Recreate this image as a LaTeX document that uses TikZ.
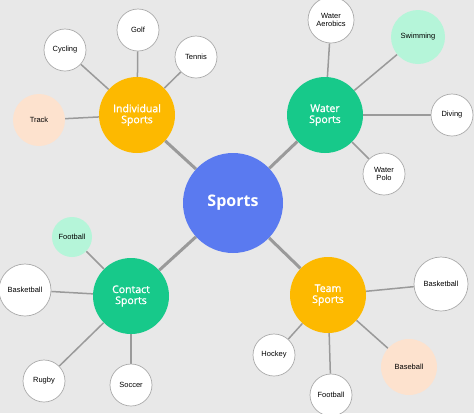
\documentclass[tikz,border=0pt]{standalone}
\usepackage{fontspec}
\setmainfont{Open Sans}
\newfontfamily\leaffont{Liberation Sans}
\newfontfamily\subfont[FakeBold=1.2]{Open Sans}
\usetikzlibrary{backgrounds}
\definecolor{bgc}{HTML}{E8E8E8}
\definecolor{blu}{HTML}{5A7AF0}
\definecolor{yel}{HTML}{FDB900}
\definecolor{grn}{HTML}{17C98A}
\definecolor{peach}{HTML}{FDE2CE}
\definecolor{mint}{HTML}{B5F5D9}
\definecolor{linec}{HTML}{9A9A9A}
\definecolor{leafb}{HTML}{AAAAAA}
\begin{document}
\begin{tikzpicture}[x=1pt,y=-1pt,
  hub/.style={circle,inner sep=0pt,minimum size=100pt,fill=blu,text=white,font=\bfseries\fontsize{16}{18}\selectfont},
  sub/.style={circle,inner sep=0pt,minimum size=76pt,text=white,align=center,font=\subfont\fontsize{10.5}{11}\selectfont},
  leaf/.style={circle,inner sep=0pt,minimum size=42pt,fill=white,draw=leafb,line width=0.7pt,align=center,font=\leaffont\fontsize{7.5}{8.5}\selectfont},
  soft/.style={circle,inner sep=0pt,align=center,font=\leaffont\fontsize{7.5}{8.5}\selectfont},
  mainlink/.style={draw=linec,line width=3pt},
  leaflink/.style={draw=linec,line width=1.5pt}]
\useasboundingbox (0,0) rectangle (474,413);
\clip (0,0) rectangle (474,413);
\node[hub] (sports) at (233,203) {Sports};
\node[sub,fill=yel] (ind) at (137,115) {Individual\\Sports};
\node[sub,fill=grn] (water) at (325,115) {Water\\Sports};
\node[sub,fill=grn] (contact) at (131,296) {Contact\\Sports};
\node[sub,fill=yel] (team) at (328,295) {Team\\Sports};
\node[leaf] (cyc) at (65,50) {Cycling};
\node[leaf] (golf) at (138,30) {Golf};
\node[leaf] (ten) at (196,57) {Tennis};
\node[soft,fill=peach,minimum size=52pt] (track) at (39,120) {Track};
\node[leaf,minimum size=46pt] (aer) at (331,20) {Water\\Aerobics};
\node[soft,fill=mint,minimum size=54pt] (swim) at (418,37) {Swimming};
\node[leaf] (div) at (452,115) {Diving};
\node[leaf] (polo) at (384,174) {Water\\Polo};
\node[soft,fill=mint,minimum size=40pt] (fb1) at (72,237) {Football};
\node[leaf,minimum size=52pt] (bb1) at (25,290) {Basketball};
\node[leaf] (rug) at (44,381) {Rugby};
\node[leaf] (soc) at (131,385) {Soccer};
\node[leaf,minimum size=54pt] (bb2) at (441,284) {Basketball};
\node[leaf] (hoc) at (274,355) {Hockey};
\node[leaf] (fb2) at (331,395) {Football};
\node[soft,fill=peach,minimum size=56pt] (base) at (409,367) {Baseball};
\begin{scope}[on background layer]
  \fill[bgc] (0,0) rectangle (474,413);
  \foreach \s in {ind,water,contact,team} \draw[mainlink] (sports) -- (\s);
  \foreach \l in {cyc,golf,ten,track} \draw[leaflink] (ind) -- (\l);
  \foreach \l in {aer,swim,div,polo} \draw[leaflink] (water) -- (\l);
  \foreach \l in {fb1,bb1,rug,soc} \draw[leaflink] (contact) -- (\l);
  \foreach \l in {bb2,hoc,fb2,base} \draw[leaflink] (team) -- (\l);
\end{scope}
\end{tikzpicture}
\end{document}
